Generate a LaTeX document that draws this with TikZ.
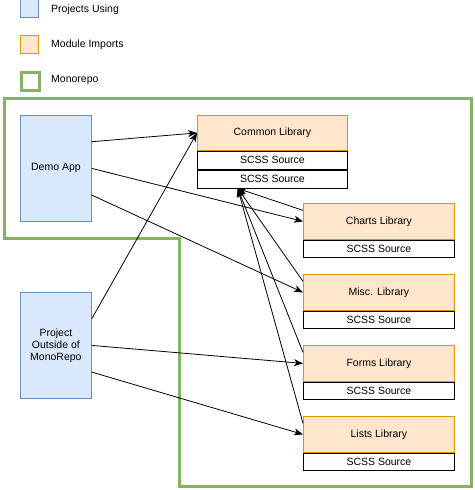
\documentclass[tikz,border=0pt]{standalone}
\usepackage{fontspec}
\setmainfont{Liberation Sans}
\usetikzlibrary{arrows.meta,calc}
\definecolor{bluefill}{HTML}{DAE8FC}
\definecolor{bluedraw}{HTML}{6C8EBF}
\definecolor{orfill}{HTML}{FFE6CC}
\definecolor{ordraw}{HTML}{D79B00}
\definecolor{monogreen}{HTML}{82B366}
\tikzset{
  txt/.style={font=\fontsize{10.5}{12}\selectfont, text=black},
  proj/.style={txt, draw=bluedraw, fill=bluefill, line width=0.8pt, inner sep=0pt, minimum width=71pt, minimum height=106pt, align=center, anchor=north west},
  libhead/.style={txt, draw=ordraw, fill=orfill, line width=0.8pt, inner sep=0pt, minimum width=151pt, minimum height=36pt, anchor=north west},
  srcrow/.style={txt, draw=black, fill=white, line width=0.8pt, inner sep=0pt, minimum width=151pt, minimum height=17.5pt, anchor=north west},
  legendsq/.style={line width=0.8pt, inner sep=0pt, minimum width=18pt, minimum height=18pt, anchor=north west},
  legtxt/.style={txt, anchor=west, inner sep=0pt},
  mono/.style={draw=monogreen, line width=3pt},
  conn/.style={draw=black, line width=0.8pt, -{Stealth[length=9pt,width=7pt,inset=2.5pt]}},
}
\begin{document}
\begin{tikzpicture}[x=1pt,y=-1pt]
\useasboundingbox (0,0) rectangle (474,490);
% legend
\node[legendsq, draw=bluedraw, fill=bluefill] (lg1) at (19.5,-1) {};
\node[legtxt] (lt1) at (51,9.5) {Projects Using};
\node[legendsq, draw=ordraw, fill=orfill] (lg2) at (19.5,35) {};
\node[legtxt] (lt2) at (51,44.5) {Module Imports};
\node[legendsq, draw=monogreen, line width=3pt, minimum width=18pt, minimum height=18pt] (lg3) at (19.5,70.5) {};
\node[legtxt] (lt3) at (51,80) {Monorepo};
% monorepo outline
\draw[mono] (4,98.5) -- (471.5,98.5) -- (471.5,486) -- (179.5,486) -- (179.5,238.5) -- (4,238.5) -- cycle;
% projects
\node[proj] (demo) at (20,115) {Demo App};
\node[proj] (outside) at (20,292) {Project\\Outside of\\MonoRepo};
% libraries
\node[libhead, minimum width=150pt, minimum height=35pt] (common) at (197,115) {Common Library};
\node[srcrow, minimum width=150pt, minimum height=18pt] (c1) at (common.south west) {SCSS Source};
\node[srcrow, minimum width=150pt, minimum height=18pt] (c2) at (c1.south west) {SCSS Source};
\node[libhead] (charts) at (303,203) {Charts Library};
\node[srcrow] (s1) at (charts.south west) {SCSS Source};
\node[libhead] (misc) at (303,274) {Misc. Library};
\node[srcrow] (s2) at (misc.south west) {SCSS Source};
\node[libhead] (forms) at (303,345) {Forms Library};
\node[srcrow] (s3) at (forms.south west) {SCSS Source};
\node[libhead] (lists) at (303,416) {Lists Library};
\node[srcrow] (s4) at (lists.south west) {SCSS Source};
% target point on Common Library
\coordinate (ctarget) at ($(c2.south west)!0.27!(c2.south east)$);
% connectors from projects
\draw[conn] ($(demo.north east)!0.25!(demo.south east)$) -- (common.west);
\draw[conn] (demo.east) -- (charts.west);
\draw[conn] ($(demo.north east)!0.75!(demo.south east)$) -- (misc.west);
\draw[conn] ($(outside.north east)!0.25!(outside.south east)$) -- (common.west);
\draw[conn] (outside.east) -- (forms.west);
\draw[conn] ($(outside.north east)!0.75!(outside.south east)$) -- (lists.west);
% library imports of common
\draw[conn] ($(charts.north west)!0.2!(charts.south west)$) -- (ctarget);
\draw[conn] ($(misc.north west)!0.2!(misc.south west)$) -- (ctarget);
\draw[conn] ($(forms.north west)!0.2!(forms.south west)$) -- (ctarget);
\draw[conn] ($(lists.north west)!0.2!(lists.south west)$) -- (ctarget);
\end{tikzpicture}
\end{document}
